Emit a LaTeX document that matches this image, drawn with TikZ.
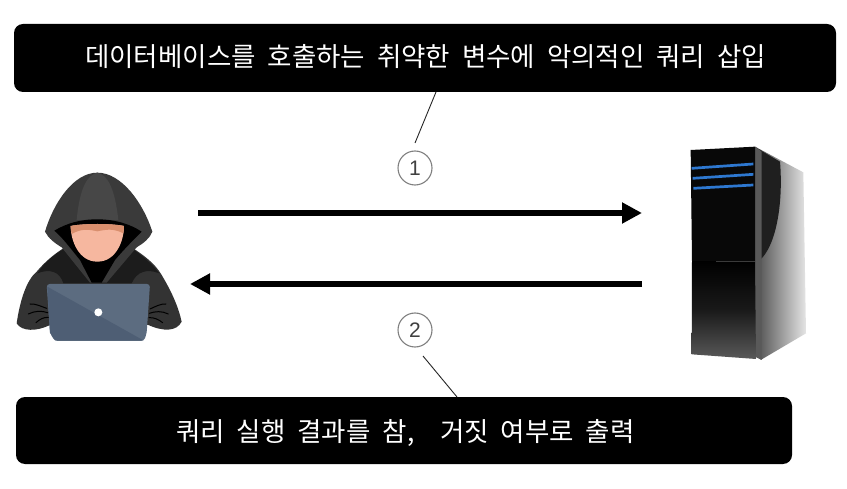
\documentclass[tikz,border=0pt]{standalone}
\usepackage{fontspec}
\newfontfamily\krfont[WordSpace=2]{Noto Sans CJK KR}
\setmainfont{Liberation Sans}
\usetikzlibrary{arrows.meta}
\definecolor{hoodA}{HTML}{3A3A3A}
\definecolor{hoodB}{HTML}{474747}
\definecolor{bodyA}{HTML}{333333}
\definecolor{bodyB}{HTML}{1C1C1C}
\definecolor{faceA}{HTML}{F6B79F}
\definecolor{faceB}{HTML}{D98F6E}
\definecolor{lapA}{HTML}{5C6C80}
\definecolor{lapB}{HTML}{4E5E74}
\definecolor{stripe}{HTML}{2E78D0}
\tikzset{
 bar/.style={fill=black,rounded corners=9pt,draw=none},
 bartext/.style={text=white,font=\krfont\fontsize{26.5}{30}\selectfont,inner sep=0pt},
 stepnum/.style={circle,draw=black!50,line width=1.1pt,minimum size=34pt,inner sep=0pt,font=\fontsize{21}{24}\selectfont,text=black!75},
 leader/.style={draw=black!85,line width=0.9pt},
 flow/.style={line width=6pt,-{Triangle[length=20pt,width=20pt]}},
 finger/.style={draw=black,line width=1pt,line cap=round},
}
\begin{document}
\begin{tikzpicture}[x=1pt,y=-1pt]
\useasboundingbox (0,0) rectangle (847,489);
\fill[white] (0,0) rectangle (847,489);
% bars
\path[bar] (14,24) rectangle (836,92);
\path[bar] (16,397) rectangle (792,464);
\node[bartext] (toptext) at (425.5,57) {데이터베이스를 호출하는 취약한 변수에 악의적인 쿼리 삽입};
\node[bartext] (bottext) at (405.5,433) {쿼리 실행 결과를 참,\hspace{14pt} 거짓 여부로 출력};
\coordinate (topanchor) at (436,92);
\coordinate (botanchor) at (457,397);
% numbers
\node[stepnum] (one) at (415,168) {1};
\node[stepnum] (two) at (415,330) {2};
\coordinate (onetip) at (415,143);
\coordinate (twotip) at (423,356);
\draw[leader] (topanchor) -- (onetip);
\draw[leader] (botanchor) -- (twotip);
% arrows
\coordinate (a1s) at (198,213);
\coordinate (a1e) at (642,213);
\coordinate (a2s) at (642,284);
\coordinate (a2e) at (190,284);
\draw[flow] (a1s) -- (a1e);
\draw[flow] (a2s) -- (a2e);
% hacker
\begin{scope}[x=0.33333pt,y=-0.33333pt,shift={(0pt,-160pt)}]
 \fill[bodyA] (50,490) .. controls (60,420) and (80,360) .. (110,335) .. controls (135,305) and (165,280) .. (195,262)
   -- (395,262) .. controls (430,285) and (465,310) .. (485,345) .. controls (515,395) and (535,440) .. (545,485)
   .. controls (530,515) and (490,515) .. (445,495) -- (150,495) .. controls (110,515) and (65,515) .. (50,490) -- cycle;
 \fill[bodyB] (112,340) .. controls (135,305) and (165,282) .. (195,265) -- (395,265) .. controls (425,285) and (455,310) .. (478,340)
   .. controls (440,325) and (410,335) .. (395,370) -- (190,370) .. controls (180,335) and (150,325) .. (112,340) -- cycle;
 \fill[hoodA] (135,215) .. controls (160,130) and (220,38) .. (292,38) .. controls (365,38) and (430,130) .. (457,215)
   .. controls (450,235) and (430,250) .. (410,262) -- (320,368) -- (270,368) -- (185,262) .. controls (165,250) and (145,235) .. (135,215) -- cycle;
 \fill[hoodB] (292,38) .. controls (265,45) and (240,75) .. (230,180) -- (355,180) .. controls (345,90) and (325,45) .. (292,38) -- cycle;
 \fill[black] (163,212) .. controls (200,190) and (240,178) .. (292,178) .. controls (345,178) and (390,192) .. (425,215)
   .. controls (400,240) and (370,270) .. (345,300) -- (305,368) -- (275,368) -- (240,300) .. controls (215,270) and (190,235) .. (163,212) -- cycle;
 \fill[faceA] (212,198) .. controls (250,190) and (335,190) .. (372,198)
   .. controls (372,240) and (350,305) .. (292,305) .. controls (235,305) and (212,240) .. (212,198) -- cycle;
 \fill[faceB] (212,198) .. controls (250,190) and (335,190) .. (372,198) .. controls (372,205) and (371,212) .. (370,220)
   .. controls (340,205) and (320,208) .. (292,214) .. controls (265,208) and (245,205) .. (215,222) .. controls (213,212) and (212,205) .. (212,198) -- cycle;
 \fill[lapA,rounded corners=3pt] (140,372) -- (450,372) -- (440,520) -- (432,543) -- (165,543) -- (150,520) -- cycle;
 \fill[lapB] (142,380) -- (430,541) -- (165,541) -- (150,518) -- cycle;
 \fill[white] (295,457) circle (12);
 \draw[finger] (90,432) .. controls (105,430) and (125,440) .. (140,445);
 \draw[finger] (85,462) .. controls (105,452) and (125,452) .. (143,458);
 \draw[finger] (108,488) .. controls (120,477) and (130,472) .. (145,472);
 \draw[finger] (498,432) .. controls (485,430) and (465,440) .. (450,447);
 \draw[finger] (505,462) .. controls (485,452) and (465,454) .. (448,460);
 \draw[finger] (488,488) .. controls (475,478) and (462,472) .. (447,473);
\end{scope}
% server
\begin{scope}[x=0.33333pt,y=-0.33333pt,shift={(670pt,-135pt)}]
 \shade[left color=black!70,right color=black!10] (255,35) -- (400,112) -- (408,595) -- (272,675) -- cycle;
 \fill[black!88] (258,38) -- (330,80) .. controls (340,200) and (320,330) .. (270,375) -- cycle;
 \fill[black!65] (255,35) -- (275,50) -- (275,675) -- (255,665) -- cycle;
 \fill[black!97] (62,45) -- (255,35) -- (255,380) -- (66,378) -- cycle;
 \shade[top color=black,bottom color=black!65,middle color=black!90] (66,378) -- (255,380) -- (258,672) -- (65,658) -- cycle;
 \draw[stripe,line width=2.7pt] (65,100) -- (250,87);
 \draw[stripe,line width=2.7pt] (68,130) -- (250,118);
 \draw[stripe,line width=2.7pt] (70,160) -- (250,150);
\end{scope}
\end{tikzpicture}
\end{document}
